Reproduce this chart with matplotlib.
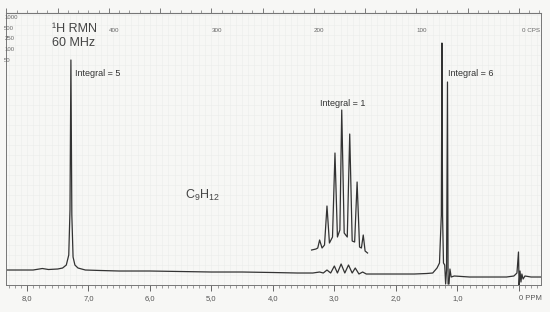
import matplotlib.pyplot as plt
from matplotlib.ticker import MultipleLocator

plt.rcParams['font.family'] = ['Liberation Sans', 'DejaVu Sans']
plt.rcParams['mathtext.fontset'] = 'custom'
plt.rcParams['mathtext.rm'] = 'Liberation Sans'

# pen trace: chemical shift (ppm) and pen height
trace_ppm = [8.34, 8.1, 7.9, 7.75, 7.65, 7.5, 7.42, 7.36, 7.32, 7.30, 7.285, 7.27,
             7.25, 7.22, 7.17, 7.05, 6.8, 6.5, 6.0, 5.5, 5.0, 4.5, 4.0, 3.6,
             3.35, 3.24, 3.18, 3.12, 3.06, 3.0, 2.95, 2.89, 2.83, 2.77, 2.71, 2.66,
             2.6, 2.54, 2.48, 2.3, 2.0, 1.7, 1.5, 1.4, 1.33, 1.29, 1.26, 1.25,
             1.24, 1.225, 1.205, 1.19, 1.175, 1.16, 1.15, 1.135, 1.12, 1.10, 1.05, 0.8,
             0.5, 0.2, 0.08, 0.03, 0.005, -0.005, -0.02, -0.035, -0.05, -0.07, -0.1, -0.2,
             -0.36]
trace_int = [15, 15, 15, 16.5, 15.5, 16, 17, 20, 30, 75, 225, 70,
             28, 20, 17, 15, 14.5, 14, 14, 13.5, 13, 13, 12.5, 12,
             12, 13, 12, 15, 12, 19, 12, 21, 12, 20, 12, 17,
             11, 13, 11, 11, 11, 11, 11.5, 12, 17, 22, 70, 242,
             70, 22, 20, 1, 15, 203, 1, 1, 16, 8, 9, 8,
             8, 8, 9, 12, 33, 0, 14, 3, 11, 6, 9, 8,
             8]

# integral-expanded septet of the CH proton
septet_ppm = [3.37, 3.30, 3.27, 3.24, 3.20, 3.16, 3.12, 3.08, 3.03, 2.99, 2.95, 2.91,
              2.88, 2.84, 2.79, 2.75, 2.71, 2.67, 2.63, 2.59, 2.56, 2.53, 2.50, 2.46]
septet_int = [35, 36, 37, 45, 37, 40, 79, 42, 48, 132, 48, 55,
              175, 52, 48, 151, 44, 43, 103, 38, 37, 50, 34, 32]

ppm_ticks = [8, 7, 6, 5, 4, 3, 2, 1, 0]
ppm_labels = ['8,0', '7,0', '6,0', '5,0', '4,0', '3,0', '2,0', '1,0', '0 PPM']
cps_ticks = [400, 300, 200, 100]
sweep_labels = ['1000', '500', '250', '100', '50']

ink = '#333333'
paper = '#f7f7f5'

fig = plt.figure(figsize=(5.5, 3.12), dpi=100, facecolor=paper)
ax = fig.add_axes([0.011, 0.0865, 0.9725, 0.8718], facecolor=paper)

ax.plot(trace_ppm, trace_int, color=ink, lw=0.9)
ax.plot(septet_ppm, septet_int, color=ink, lw=0.9)

ax.set_xlim(8.34, -0.36)
ax.set_ylim(0, 272)

# chart paper grid
ax.xaxis.set_minor_locator(MultipleLocator(0.1))
ax.yaxis.set_major_locator(MultipleLocator(10))
ax.grid(True, which='both', axis='x', color='#ebedeb', lw=0.4)
ax.grid(True, which='major', axis='y', color='#ebedeb', lw=0.4)
ax.set_axisbelow(True)

ax.set_xticks(ppm_ticks)
ax.set_xticklabels(ppm_labels)
ax.get_xticklabels()[-1].set_ha('left')
ax.tick_params(axis='x', which='major', direction='out', length=4, width=0.7,
               color='#666', labelsize=5.5, labelcolor='#555', pad=3)
ax.tick_params(axis='x', which='minor', direction='out', length=2, width=0.5, color='#777')
ax.tick_params(axis='y', left=False, labelleft=False)
for s in ax.spines.values():
    s.set_color('#777')
    s.set_linewidth(0.7)

# CPS ruler along the top
top = ax.secondary_xaxis('top', functions=(lambda p: p * 60, lambda c: c / 60))
top.xaxis.set_major_locator(MultipleLocator(50))
top.xaxis.set_minor_locator(MultipleLocator(10))
top.tick_params(which='major', direction='out', length=3.5, width=0.6, color='#666', labeltop=False)
top.tick_params(which='minor', direction='out', length=2, width=0.5, color='#777')
top.spines['top'].set_color('#777')

for c in cps_ticks:
    ax.text(c / 60 - 0.09, 255, str(c), fontsize=4.5, color='#666', ha='center', va='center')
ax.text(-0.06, 255, '0 CPS', fontsize=4.5, color='#666', ha='left', va='center')

for lab, y in zip(sweep_labels, [268, 257, 247, 236, 225]):
    ax.text(8.37, y, lab, fontsize=4.3, color='#666', ha='left', va='center', clip_on=False)

ax.text(7.6, 256, '\u00b9H RMN', fontsize=9, color='#444', ha='left', va='center')
ax.text(7.6, 242, '60 MHz', fontsize=9, color='#444', ha='left', va='center')
ax.text(7.22, 212, 'Integral = 5', fontsize=6.5, color='#333', ha='left', va='center')
ax.text(3.24, 182, 'Integral = 1', fontsize=6.5, color='#333', ha='left', va='center')
ax.text(1.15, 212, 'Integral = 6', fontsize=6.5, color='#333', ha='left', va='center')
ax.text(5.43, 90, r'C$_{9}$H$_{12}$', fontsize=9, color='#444', ha='left', va='center')

fig.savefig('out.png', dpi=100, facecolor=paper)
